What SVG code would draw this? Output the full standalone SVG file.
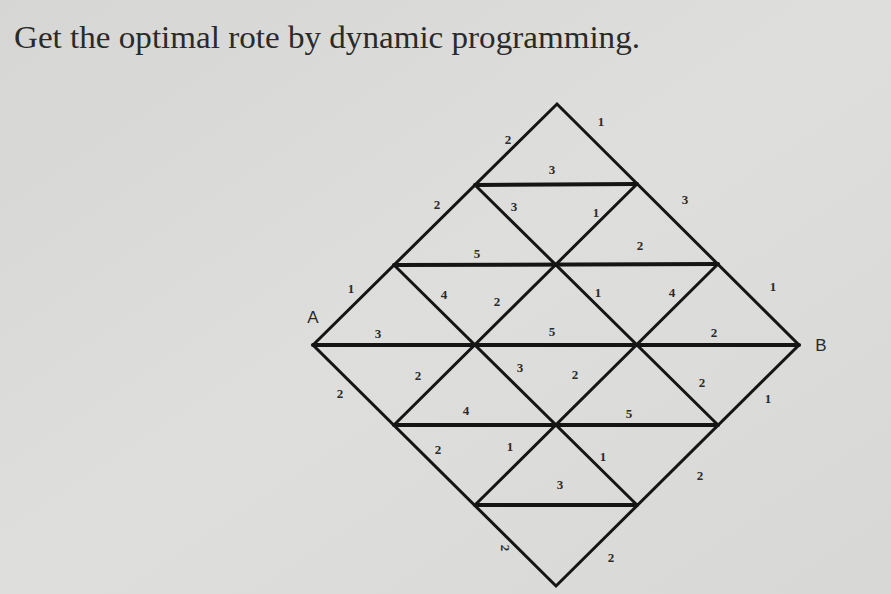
<svg xmlns="http://www.w3.org/2000/svg" width="891" height="594" viewBox="0 0 891 594">
<defs>
<linearGradient id="bg" x1="0" y1="0" x2="1" y2="1">
<stop offset="0" stop-color="#d6d6d4"/>
<stop offset="0.5" stop-color="#dededc"/>
<stop offset="1" stop-color="#d8d8d6"/>
</linearGradient>
<style>
.d{stroke:#151515;stroke-width:3;fill:none;stroke-linecap:round}
.h{stroke:#151515;stroke-width:4;fill:none;stroke-linecap:round}
.w{font-family:"Liberation Serif",serif;font-size:13px;font-weight:bold;fill:#2a2a2a;text-anchor:middle}
.n{font-family:"Liberation Sans",sans-serif;font-size:17px;fill:#2a2a2a;text-anchor:middle}
.t{font-family:"Liberation Serif",serif;font-size:32px;fill:#2a2a2a}
</style>
</defs>
<rect width="891" height="594" fill="url(#bg)"/>
<text class="t" x="14" y="48" textLength="626" lengthAdjust="spacingAndGlyphs">Get the optimal rote by dynamic programming.</text>
<g id="connectors">
<path class="d" d="M313,345 L557,104 L799,345 L556,586 Z"/>
<line class="d" x1="394" y1="425" x2="637" y2="184"/>
<line class="d" x1="475" y1="505" x2="718" y2="264"/>
<line class="d" x1="394" y1="265" x2="637" y2="505"/>
<line class="d" x1="475" y1="185" x2="718" y2="425"/>
<line class="h" x1="475" y1="185" x2="637" y2="184"/>
<line class="h" x1="394" y1="265" x2="718" y2="264"/>
<line class="h" x1="313" y1="345" x2="799" y2="345"/>
<line class="h" x1="394" y1="425" x2="718" y2="425"/>
<line class="h" x1="475" y1="505" x2="637" y2="505"/>
</g>
<g id="weights">
<text class="w" x="351" y="293">1</text>
<text class="w" x="437" y="209">2</text>
<text class="w" x="508" y="144">2</text>
<text class="w" x="601" y="126">1</text>
<text class="w" x="685" y="204">3</text>
<text class="w" x="773" y="291">1</text>
<text class="w" x="340" y="398">2</text>
<text class="w" x="438" y="454">2</text>
<text class="w" x="505" y="552" transform="rotate(90 505 548)">2</text>
<text class="w" x="611" y="562">2</text>
<text class="w" x="700" y="480">2</text>
<text class="w" x="768" y="403">1</text>
<text class="w" x="378" y="338">3</text>
<text class="w" x="552" y="336">5</text>
<text class="w" x="714" y="337">2</text>
<text class="w" x="477" y="258">5</text>
<text class="w" x="640" y="250">2</text>
<text class="w" x="552" y="174">3</text>
<text class="w" x="466" y="415">4</text>
<text class="w" x="629" y="418">5</text>
<text class="w" x="560" y="489">3</text>
<text class="w" x="418" y="380">2</text>
<text class="w" x="497" y="306">2</text>
<text class="w" x="596" y="217">1</text>
<text class="w" x="510" y="451">1</text>
<text class="w" x="575" y="379">2</text>
<text class="w" x="672" y="297">4</text>
<text class="w" x="444" y="299">4</text>
<text class="w" x="520" y="372">3</text>
<text class="w" x="603" y="461">1</text>
<text class="w" x="514" y="211">3</text>
<text class="w" x="598" y="297">1</text>
<text class="w" x="702" y="387">2</text>
</g>
<g id="node-A"><text class="n" x="313" y="323">A</text></g>
<g id="node-B"><text class="n" x="821" y="351">B</text></g>
</svg>
